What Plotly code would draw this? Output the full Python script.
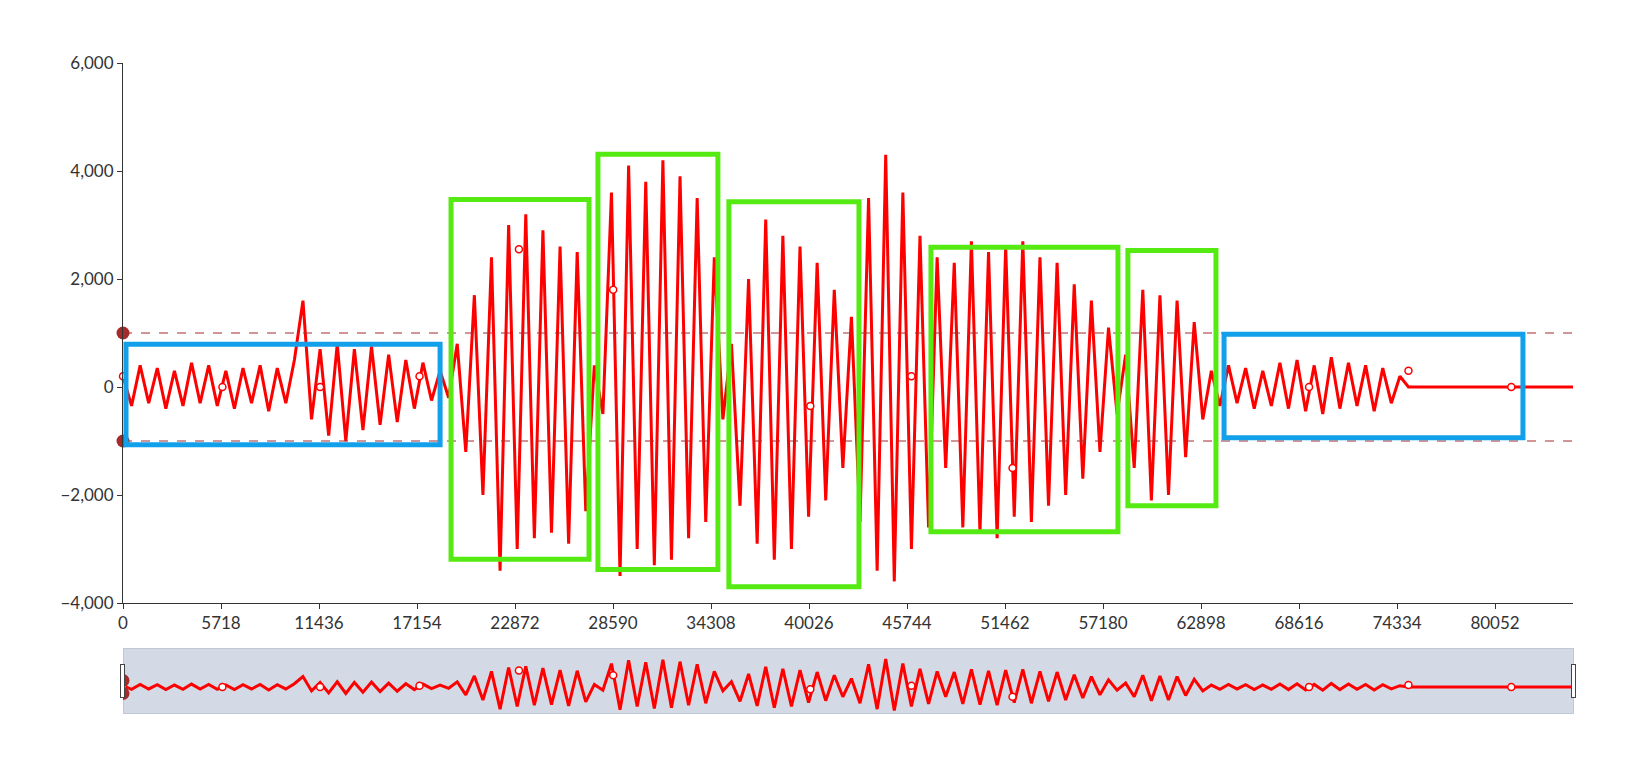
import plotly.graph_objects as go

step = 500
amp = [200, -350, 400, -300, 350, -400, 300, -350, 450, -300,
       400, -350, 300, -400, 350, -300, 400, -450, 350, -300,
       500, 1600, -600, 700, -900, 800, -1000, 700, -800, 750,
       -700, 600, -650, 500, -400, 450,
       -250, 300, -200,
       800, -1200, 1700, -2000, 2400, -3400, 3000, -3000, 3200, -2800, 2900, -2700, 2600, -2900, 2500, -2300,
       400, -500,
       3600, -3500, 4100, -3000, 3800, -3300, 4200, -3200, 3900, -2800, 3500, -2500, 2400,
       -600, 800,
       -2200, 2000, -2900, 3100, -3200, 2800, -3000, 2600, -2400, 2300, -2100, 1800, -1500, 1300,
       -2500, 3500, -3400, 4300, -3600, 3600, -3000, 2800, -2600, 2400, -1500,
       2300, -2600, 2700, -2700, 2500, -2800, 2600, -2400, 2700, -2500, 2400, -2200, 2300, -2000, 1900, -1700, 1600, -1200, 1100,
       -500, 600,
       -1500, 1800, -2100, 1700, -2000, 1600, -1300, 1200, -600,
       300, -350, 400, -300, 350, -400, 300, -350, 450, -400, 500, -450, 400, -500, 550, -400, 450, -350, 400, -450, 350, -300, 200]
xs = [i * step for i in range(len(amp))] + [75000, 84600]
ys = amp + [0, 0]

dot_x = [0, 5800, 11500, 17300, 23100, 28600, 40100, 46000, 51900, 69200, 75000, 81000]
dot_y = [200, 0, 0, 200, 2550, 1800, -350, 200, -1500, 0, 300, 0]

# boxes: x0, x1, y0, y1, colour
boxes = [
    (175, 18500, -1070, 790, "#12a0ea"),
    (19140, 27190, -3190, 3470, "#55ea12"),
    (27710, 34710, -3380, 4310, "#55ea12"),
    (35350, 42940, -3700, 3430, "#55ea12"),
    (47140, 58050, -2680, 2590, "#55ea12"),
    (58630, 63770, -2200, 2530, "#55ea12"),
    (64240, 81680, -940, 975, "#12a0ea"),
]
xticks = [i * 5718 for i in range(15)]

fig = go.Figure()
fig.add_trace(go.Scatter(x=xs, y=ys, mode="lines", line=dict(color="#ff0000", width=3),
                         showlegend=False))
fig.add_trace(go.Scatter(x=dot_x, y=dot_y, mode="markers", showlegend=False, cliponaxis=False,
                         marker=dict(color="white", size=7, line=dict(color="#ff0000", width=1.5))))
fig.add_trace(go.Scatter(x=[0, 0], y=[1000, -1000], mode="markers", showlegend=False, cliponaxis=False,
                         marker=dict(color="#a52a2a", size=13)))
for yv in [1000, -1000]:
    fig.add_shape(type="line", x0=0, x1=1, xref="paper", y0=yv, y1=yv,
                  line=dict(color="#a52a2a", width=1, dash="dash"))
for x0, x1, y0, y1, c in boxes:
    fig.add_shape(type="rect", x0=x0, x1=x1, y0=y0, y1=y1,
                  line=dict(color=c, width=5))

fig.update_layout(
    width=1638, height=768, plot_bgcolor="white", paper_bgcolor="white",
    margin=dict(l=115, r=73, t=55, b=62),
    font=dict(family="Lato", size=17, color="#333"),
)
fig.update_xaxes(range=[0, 84600], tickvals=xticks, ticktext=[str(v) for v in xticks],
                 showgrid=False, zeroline=False,
                 showline=True, linecolor="#333", ticks="outside", tickcolor="#333",
                 rangeslider=dict(visible=True, thickness=0.1, bgcolor="#d3dae6", range=[0, 84600],
                                  bordercolor="#c0c8d4", borderwidth=1))
fig.update_yaxes(range=[-4000, 6000], dtick=2000, tickformat=",", showgrid=False, zeroline=False,
                 showline=True, linecolor="#333", ticks="outside", tickcolor="#333")
fig.write_html("out.html")
